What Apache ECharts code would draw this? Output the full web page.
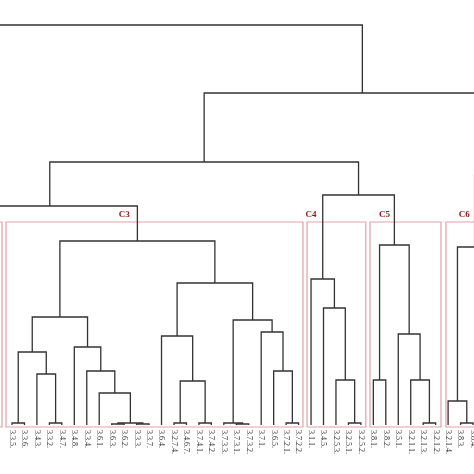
<!DOCTYPE html>
<html><head><meta charset="utf-8">
<script src="https://cdn.jsdelivr.net/npm/echarts@6/dist/echarts.min.js"></script>
<style>html,body{margin:0;padding:0;background:#fff}#c{width:474px;height:474px}</style>
</head><body><div id="c"></div>
<script>
// visible leaf labels (index 0..37)
const leafLabels = ["3.3.5.","3.3.6.","3.4.3.","3.3.2.","3.4.7.","3.4.8.","3.3.4.","3.6.1.","3.6.3.","3.6.2.","3.3.3.","3.3.7.","3.6.4.","3.2.7.4.","3.4.6.7.","3.7.4.1.","3.7.4.2.","3.7.3.3.","3.7.3.1.","3.7.3.2.","3.7.1.","3.6.5.","3.7.2.1.","3.7.2.2.","3.1.1.","3.4.5.","3.2.5.3.","3.2.5.1.","3.2.5.2.","3.8.1.","3.8.2.","3.5.1.","3.2.1.1.","3.2.1.3.","3.2.1.2.","3.2.1.4.","3.8.3.","3.8.4."];
// merge heights (tree written as nested [left, right, height]); negative / >37 leaves lie outside the crop
const c3Left = [[[0,1,2],[2,[3,4,2],51],73],[5,[6,[7,[[8,9,1],[10,11,1],2],32],54],78],108];
const c3Right = [[12,[[13,14,2],[15,16,2],44],89],[[17,[18,19,1],2],[20,[21,[22,23,2],54],93],105],142];
const c3 = [c3Left, c3Right, 184];
const c4 = [24,[25,[26,[27,28,2],45],117],146];
const c5 = [[29,30,45],[31,[32,[33,34,2],45],91],180];
const c6 = [[35,[36,37,2],24],[38,39,60],178];
const c2 = [[-6,-5,30],[-3,-2,40],150];
const tree = [[-8,-7,100],[[[c2,c3,219],[c4,c5,230],263],[c6,[[42,43,50],[46,47,50],120],250],332],400];
// cluster boxes: [name, leftIdx, rightIdx, topHeight, labelIdx]
const clusters = [["",-3,-0.8,203,null],["C3",-0.48,23.35,203,9.0],["C4",23.68,28.4,203,24.0],["C5",28.73,34.43,203,29.9],["C6",34.83,40,203,36.3]];

const links = [];
function walk(n){
  if (typeof n === 'number') return [n, 0];
  const a = walk(n[0]), b = walk(n[1]);
  links.push([a[0], a[1], b[0], b[1], n[2]]);
  return [(a[0]+b[0])/2, n[2]];
}
walk(tree);

const chart = echarts.init(document.getElementById('c'));
chart.setOption({
  animation:false,
  grid:{left:-100.14, width:710.22, top:0, height:425, containLabel:false, outerBoundsMode:'none'},
  xAxis:{type:'value', min:-9, max:48, interval:1, splitLine:{show:false}, axisLine:{show:false}, axisTick:{show:false},
    axisLabel:{rotate:-90, margin:5, fontFamily:'Liberation Serif', fontSize:8, color:'#333', hideOverlap:false,
      formatter:v=> (v>=0 && v<leafLabels.length && Number.isInteger(v)) ? leafLabels[v] : ''}},
  yAxis:{type:'value', min:0, max:425, show:false},
  series:[
    {type:'custom', data:clusters.map(c=>[c[1],c[2],c[3],c[4]===null?NaN:c[4]]), clip:false, z:1,
     renderItem:(p,api)=>{
       const c = clusters[p.dataIndex];
       const a = api.coord([api.value(0), api.value(2)]), b = api.coord([api.value(1), 0]);
       const ch = [{type:'rect', shape:{x:a[0], y:a[1], width:b[0]-a[0], height:b[1]-a[1]+2},
                    style:{fill:'none', stroke:'#dba3ab', lineWidth:1.2}}];
       if (c[0]) { const t = api.coord([api.value(3), api.value(2)]);
         ch.push({type:'text', x:t[0], y:t[1]-3, style:{text:c[0], fill:'#8b1a1a', font:'bold 9px "Liberation Serif"', align:'center', verticalAlign:'bottom'}}); }
       return {type:'group', children:ch};
     }},
    {type:'custom', data:links, z:2,
     renderItem:(p,api)=>{
       const l = api.coord([api.value(0), api.value(1)]), lt = api.coord([api.value(0), api.value(4)]);
       const r = api.coord([api.value(2), api.value(3)]), rt = api.coord([api.value(2), api.value(4)]);
       return {type:'polyline', shape:{points:[l,lt,rt,r]}, style:{fill:'none', stroke:'#333', lineWidth:1.3}};
     }}
  ]
});
</script></body></html>
